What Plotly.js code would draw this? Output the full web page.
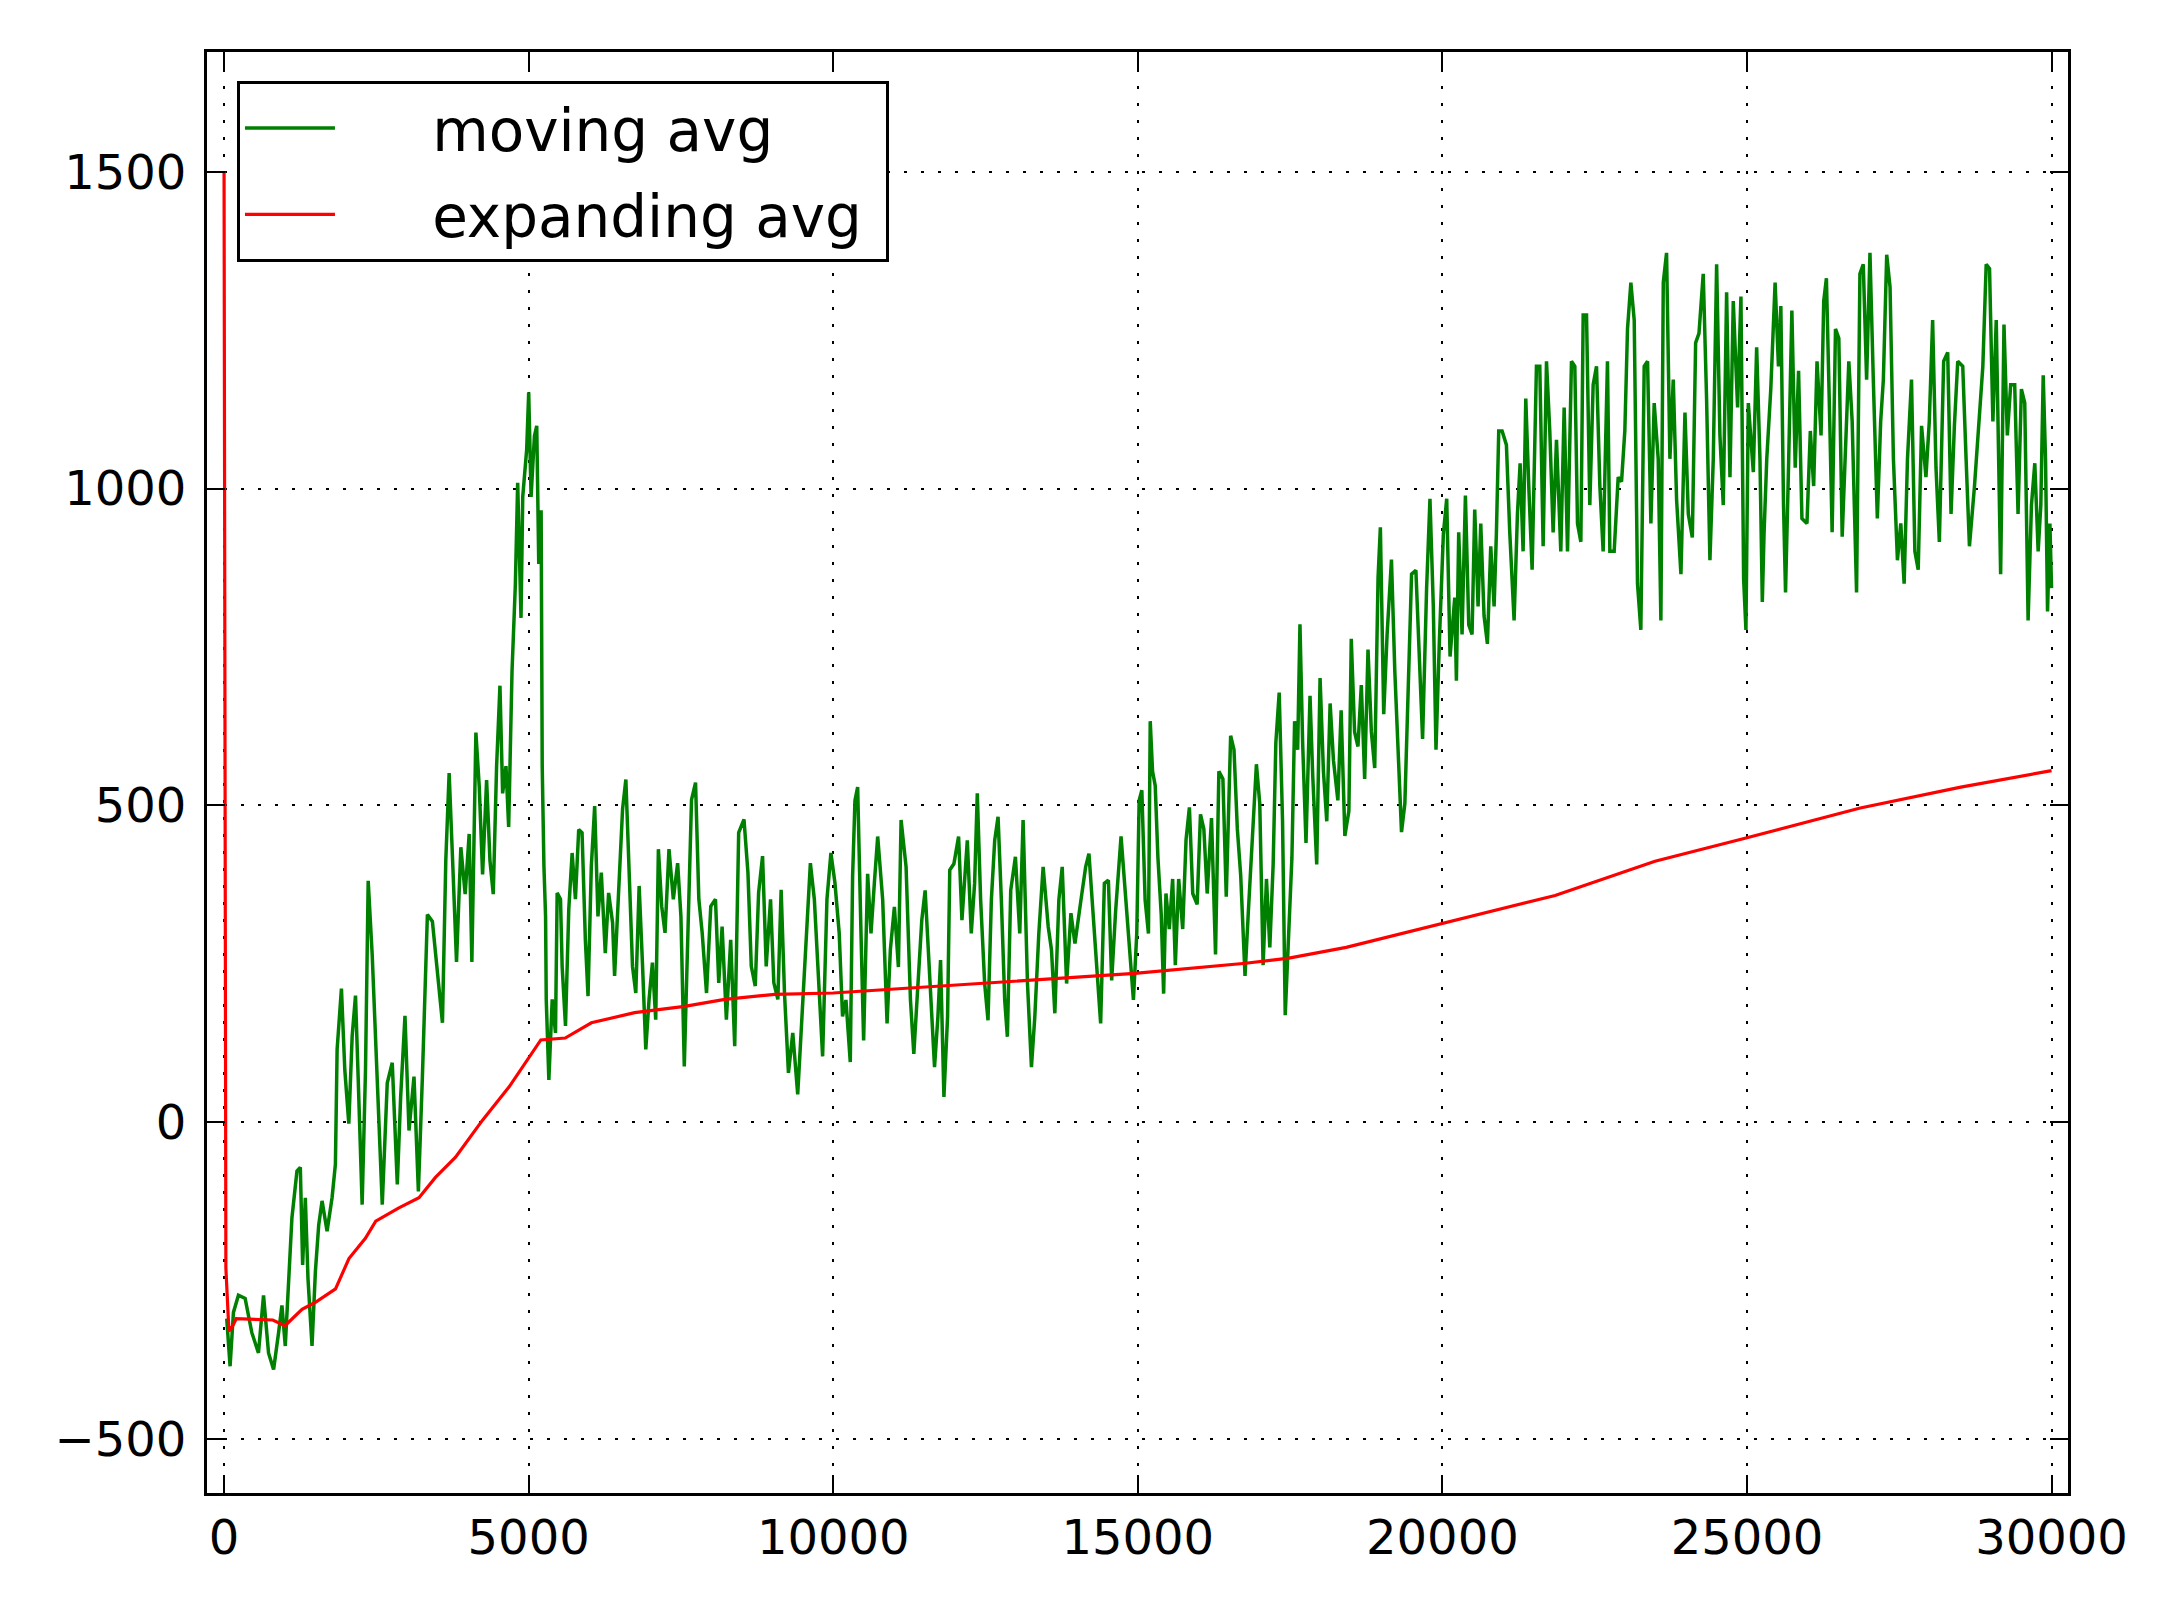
<!DOCTYPE html>
<html>
<head>
<meta charset="utf-8">
<script src="https://cdn.plot.ly/plotly-3.0.1.min.js"></script>
<style>html,body{margin:0;padding:0;background:#fff;}#chart{width:2160px;height:1612px;}</style>
</head>
<body>
<div id="chart"></div>
<script>
// ---- data ----
var movingX = [44,99,154,236,346,456,565,648,730,813,895,950,1005,1060,1114,1197,1252,1290,1334,1378,1444,1499,1554,1609,1691,1773,1828,1856,1927,1982,2048,2103,2158,2201,2267,2322,2366,2432,2487,2542,2597,2679,2761,2844,2899,2970,3036,3118,3190,3256,3338,3420,3503,3585,3640,3695,3761,3816,3887,3958,4024,4068,4134,4189,4244,4310,4365,4419,4474,4529,4573,4628,4672,4727,4782,4820,4875,4903,4968,5001,5040,5095,5133,5166,5205,
5223,5251,5278,5289,5332,5387,5441,5468,5523,5550,5605,5659,5714,5768,5822,5877,5931,5975,6029,6084,6138,6193,6258,6313,6378,6411,6476,6542,6596,6650,6705,6759,6814,6868,6923,6977,7032,7086,7130,7184,7239,7304,7375,7446,7500,7555,7620,7674,7740,7794,7849,7920,7990,8067,8121,8176,8246,8317,8383,8448,8535,8600,8655,8720,8775,8840,8900,8971,9025,9091,9145,9200,9265,9336,9417,9483,9554,9625,9690,9755,9826,9897,9962,10028,10098,10153,
10209,10280,10318,10357,10401,10456,10499,10565,10620,10675,10730,10812,10884,10938,11004,11070,11114,11196,11268,11323,11388,11454,11509,11581,11663,11718,11762,11817,11877,11913,11981,12058,12113,12201,12266,12321,12365,12420,12486,12541,12596,12651,12706,12760,12815,12859,12914,12991,13062,13117,13189,13254,13309,13375,13446,13529,13583,13638,13704,13759,13831,13902,13968,14067,14144,14198,14270,14325,14390,14451,14517,14571,14637,14725,14780,14846,14928,14983,15022,15066,15120,15175,
15204,15242,15286,15330,15385,15424,15462,15517,15572,15616,15671,15737,15792,15847,15902,15974,16029,16084,16139,16210,16276,16331,16397,16452,16524,16579,16634,16689,16760,16815,16881,16947,17002,17057,17112,17167,17222,17266,17321,17376,17420,17475,17530,17574,17624,17662,17706,17761,17827,17871,17937,17992,18047,18102,18157,18212,18284,18338,18399,18465,18504,18559,18614,18669,18724,18779,18834,18889,18944,18982,19037,19092,19164,19219,19274,19329,19384,19439,19494,19565,19604,19675,19741,19796,19851,19895,19950,20016,20071,20126,
20203,20230,20268,20323,20378,20433,20487,20531,20586,20630,20684,20739,20794,20849,20887,20925,20980,21051,21106,21177,21232,21276,21325,21369,21418,21473,21544,21599,21654,21709,21763,21818,21873,21944,21999,22054,22119,22174,22218,22273,22311,22366,22420,22475,22530,22585,22639,22710,22749,22820,22886,22941,22995,23039,23094,23149,23203,23258,23313,23368,23423,23477,23543,23587,23626,23680,23735,23790,23845,23916,23982,24037,24103,24157,24212,24282,24337,24392,24447,24502,24556,24611,24666,24721,24775,24846,24901,24945,24983,25022,25104,25159,25213,25252,
25281,25325,25391,25462,25517,25556,25600,25633,25682,25737,25792,25847,25902,25985,26040,26095,26150,26216,26260,26304,26359,26398,26453,26508,26563,26617,26672,26727,26799,26854,26909,26964,27019,27074,27140,27195,27239,27294,27349,27404,27470,27525,27580,27635,27701,27756,27811,27866,27938,27993,28048,28103,28158,28229,28295,28350,28405,28460,28542,28597,28652,28735,28817,28872,28927,28982,29037,29092,29164,29219,29274,29329,29395,29450,29505,29560,29615,29670,29725,29780,29824,29863,29901,29934,29973,30000];

var movingY = [-310,-385,-300,-273,-278,-332,-364,-273,-364,-390,-332,-289,-353,-247,-151,-77,-71,-225,-119,-247,-353,-236,-162,-124,-172,-119,-66,115,211,83,-2,136,200,72,-130,83,381,264,136,-23,-130,62,94,-98,40,168,-13,72,-109,72,328,317,232,157,413,551,391,253,434,360,455,253,615,530,391,540,413,360,562,689,519,562,466,711,849,1009,796,987,1062,1152,987,1083,1099,881,966,
562,404,325,194,67,194,141,362,352,246,152,336,425,352,462,457,288,199,404,499,325,394,267,362,315,231,352,494,541,378,246,204,373,252,115,194,252,162,431,341,299,431,352,409,325,88,341,509,536,352,299,204,341,352,220,309,162,288,120,457,478,394,246,215,362,420,246,352,220,194,367,204,78,141,44,167,299,409,352,225,104,352,425,378,299,167,
193,95,387,508,529,298,129,392,298,377,451,351,156,272,340,245,477,403,193,108,219,319,366,245,87,166,256,40,166,398,408,451,319,445,298,377,519,351,219,161,351,445,482,351,193,135,366,419,298,477,219,87,166,298,403,309,272,172,351,403,219,330,282,351,403,424,319,245,156,377,382,224,335,451,377,298,193,298,508,524,351,298,
633,554,531,418,327,203,361,305,384,248,384,305,446,497,361,344,486,463,361,480,265,554,542,356,610,588,463,390,231,333,463,565,503,248,384,276,407,599,678,475,169,288,418,633,588,786,599,441,673,548,407,701,554,475,661,571,508,650,452,491,763,616,593,690,542,746,616,559,860,939,644,769,888,712,588,458,503,673,865,871,769,605,843,984,814,588,758,928,984,735,
828,697,931,770,989,785,770,967,814,945,799,755,909,814,931,1091,1091,1069,931,792,960,1040,901,1142,1004,872,1193,1193,909,1201,1091,931,1077,901,1128,901,1201,1193,945,916,1274,1274,974,1164,1193,1004,901,1201,901,901,1018,1011,1091,1252,1325,1266,850,777,1193,1201,945,1135,1047,792,1325,1372,1047,1172,982,865,1120,960,923,1230,1245,1339,1142,887,1047,1354,1084,974,1310,1018,1296,1128,1303,858,777,1135,1026,1223,1047,821,
931,1047,1157,1325,1193,1288,974,836,1033,1281,1033,1186,953,945,1091,1004,1201,1084,1296,1332,1106,931,1252,1237,924,1047,1201,1106,836,1339,1354,1172,1372,1172,953,1106,1172,1369,1318,1047,887,945,850,1047,1172,901,872,1099,1018,1106,1266,1033,916,1201,1215,960,1099,1201,1193,1047,909,1004,1120,1193,1354,1347,1106,1266,865,1259,1084,1164,1164,960,1157,1135,792,974,1040,901,974,1179,1047,806,945,843];

var expandingX = [0,30,80,150,200,400,800,1000,1280,1500,1830,2050,2320,2490,2870,3200,3470,3800,4240,4680,5010,5200,5600,6030,6740,7560,8220,9040,10000,11650,13300,14950,16770,17480,18420,19520,20000,21850,23490,25000,26860,28510,30000];
var expandingY = [1500,-230,-330,-320,-310,-311,-312,-321,-295,-284,-263,-215,-183,-156,-135,-119,-87,-55,3,56,104,130,133,157,173,183,194,202,204,214,224,235,251,259,276,302,313,358,412,449,496,529,555];

var seriesNames = ['moving avg', 'expanding avg'];
var xTickVals = [0,5000,10000,15000,20000,25000,30000];
var xTickText = ['0','5000','10000','15000','20000','25000','30000'];
var yTickVals = [-500,0,500,1000,1500];
var yTickText = ['\u2212500','0','500','1000','1500'];

// ---- chart ----
var font = 'DejaVu Sans, Liberation Sans, sans-serif';
var padL = '\u00a0\u00a0\u00a0\u00a0\u00a0';
var padR = '\u00a0';
var traces = [
  {x: movingX, y: movingY, name: padL + seriesNames[0] + padR, legendgroup: 'g1', type: 'scatter', mode: 'lines',
   line: {color: '#008000', width: 3.5}},
  {x: expandingX, y: expandingY, name: padL + seriesNames[1] + padR, legendgroup: 'g2', type: 'scatter', mode: 'lines',
   line: {color: '#ff0000', width: 3.2}}
];
var axisCommon = {
  showline: true, linecolor: '#000', linewidth: 3, mirror: 'ticks',
  ticks: 'inside', ticklen: 18, tickwidth: 2, tickcolor: '#000',
  showgrid: true, gridcolor: '#000', gridwidth: 2, griddash: '3px,14px',
  zeroline: false, tickfont: {family: font, size: 48, color: '#000'}
};
var layout = {
  width: 2160, height: 1612,
  paper_bgcolor: '#fff', plot_bgcolor: '#fff',
  margin: {l: 207, r: 92, t: 52, b: 119, pad: 0},
  showlegend: true,
  xaxis: Object.assign({}, axisCommon, {range: [-280, 30270], tickmode: 'array',
    tickvals: xTickVals, ticktext: xTickText, ticklabelstandoff: 0}),
  yaxis: Object.assign({}, axisCommon, {range: [-585, 1689], tickmode: 'array',
    tickvals: yTickVals, ticktext: yTickText, ticklabelstandoff: 8}),
  legend: {x: 0.0161, y: 0.98, xanchor: 'left', yanchor: 'top',
    bgcolor: '#fff', bordercolor: '#000', borderwidth: 3, tracegroupgap: 8,
    font: {family: font, size: 58, color: '#000'}, itemwidth: 90}
};
Plotly.newPlot('chart', traces, layout, {staticPlot: true, displayModeBar: false});
</script>
</body>
</html>
